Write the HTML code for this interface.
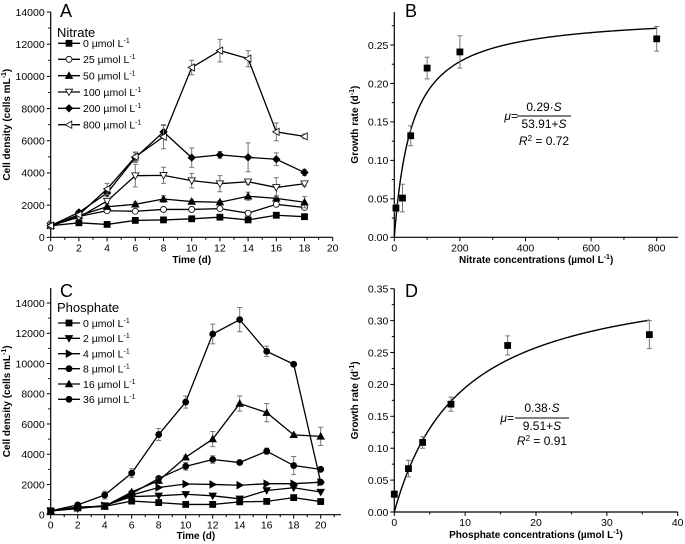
<!DOCTYPE html>
<html><head><meta charset="utf-8"><style>
html,body{margin:0;padding:0;background:#fff}
svg{display:block;font-family:"Liberation Sans",Arial,sans-serif}
</style></head><body>
<svg id="c" width="685" height="544" viewBox="0 0 685 544" xmlns="http://www.w3.org/2000/svg"></svg>
<script>
// Panel A data (time in days)
const daysA=[0,2,4,6,8,10,12,14,16,18];
const nitrateLabels=["0 µmol L","25 µmol L","50 µmol L","100 µmol L","200 µmol L","800 µmol L"];
const nA0=[720,900,800,1050,1080,1150,1250,1080,1370,1280];
const nA25=[720,1300,1650,1620,1730,1730,1780,1500,2050,1850];
const nA50=[720,1350,1900,2050,2380,2220,2180,2550,2420,2180];
const nA100=[720,1250,2250,3830,3850,3520,3330,3450,3100,3330];
const nA200=[720,1550,2750,4950,6550,4950,5120,4970,4850,4030];
const nA800=[720,1400,3000,5000,6250,10550,11600,11100,6550,6270];
const eA=[0,0,0,0,0,0,0,0,0,0];
const eA100=[150,100,150,700,500,450,500,150,600,150];
const eA200=[150,100,200,300,400,600,200,900,400,200];
const eA800=[150,100,350,300,750,450,700,500,550,150];
const eA50=[100,80,100,150,200,100,100,250,150,350];
// Panel C data
const daysC=[0,2,4,6,8,10,12,14,16,18,20];
const phosLabels=["0 µmol L","2 µmol L","4 µmol L","8 µmol L","16 µmol L","36 µmol L"];
const pC0=[250,450,550,900,800,680,680,850,880,1130,870];
const pC2=[250,400,600,1200,1250,1350,1250,1050,1600,1780,1500];
const pC4=[250,450,600,1300,1800,2030,2000,1950,2050,2050,2150];
const pC8=[250,500,550,1400,2400,3200,3650,3450,4200,3250,3000];
const pC16=[250,500,550,1500,2250,3800,5000,7350,6750,5280,5180];
const pC36=[250,650,1300,2750,5300,7450,11950,12900,10800,9950,2150];
const eC36=[100,100,250,300,400,400,650,800,350,100,100];
const eC16=[100,100,100,100,150,100,500,500,600,100,600];
const eC8=[100,100,100,100,100,250,250,100,200,600,100];
// Panel B
const nitrateConc=[5,25,50,100,200,800];
const nitrateRate=[0.038,0.051,0.132,0.220,0.241,0.258];
const nitrateErr=[0.005,0.018,0.013,0.014,0.021,0.016];
const nitrateFit=[0.29,53.91];
// Panel D
const phosConc=[0,2,4,8,16,36];
const phosRate=[0.028,0.068,0.109,0.169,0.261,0.278];
const phosErr=[0.005,0.013,0.009,0.011,0.015,0.022];
const phosFit=[0.38,9.51];

const NS="http://www.w3.org/2000/svg";
const svg=document.getElementById('c');
function mk(tag,attrs,parent,text){const e=document.createElementNS(NS,tag);for(const k in attrs)e.setAttribute(k,attrs[k]);if(text!==undefined)e.textContent=text;(parent||svg).appendChild(e);return e;}
function lin(d0,d1,r0,r1){return v=>r0+(v-d0)*(r1-r0)/(d1-d0);}
const SUP='<tspan dy="-4" font-size="7">-1</tspan><tspan dy="4">)</tspan>';

function axes(g,sx,sy,x0,x1,y0,y1,xt,yt,xmin,ymin,xfmt,yfmt,xTitle,yTitle,yTitleX,xTitleY){
  const ax=mk('path',{d:`M${sx(x0)} ${sy(y1)} V${sy(y0)} H${sx(x1)}`,stroke:'#000','stroke-width':1.2,fill:'none'},g);
  
  xt.forEach(v=>{mk('line',{x1:sx(v),x2:sx(v),y1:sy(y0),y2:sy(y0)+4,stroke:'#000'},g);
    const t=mk('text',{x:sx(v),y:sy(y0)+14,'font-size':10.5,'text-anchor':'middle'},g,xfmt(v));
    });
  xmin.forEach(v=>mk('line',{x1:sx(v),x2:sx(v),y1:sy(y0),y2:sy(y0)+2.5,stroke:'#000'},g));
  yt.forEach(v=>{mk('line',{x1:sx(x0)-4,x2:sx(x0),y1:sy(v),y2:sy(v),stroke:'#000'},g);
    const t=mk('text',{x:sx(x0)-6,y:sy(v)+3.8,'font-size':10.5,'text-anchor':'end'},g,yfmt(v));
    });
  ymin.forEach(v=>mk('line',{x1:sx(x0)-2.5,x2:sx(x0),y1:sy(v),y2:sy(v),stroke:'#000'},g));
  const xtEl=mk('text',{x:(sx(x0)+sx(x1))/2,y:xTitleY,'font-size':10,'font-weight':'bold','text-anchor':'middle'},g);
  xtEl.innerHTML=xTitle;
  const cy=(sy(y0)+sy(y1))/2;
  const ytEl=mk('text',{x:yTitleX,y:cy,'font-size':10,'font-weight':'bold','text-anchor':'middle',transform:`rotate(-90 ${yTitleX} ${cy})`},g);
  ytEl.innerHTML=yTitle;
}

function marker(g,type,x,y){
  const s=3;let e;
  const fill=/open/.test(type)?'#fff':'#000';
  if(/square/.test(type))e=mk('rect',{x:x-s,y:y-s,width:2*s,height:2*s,fill:fill,stroke:'#000','stroke-width':0.8},g);
  else if(/circle/.test(type))e=mk('circle',{cx:x,cy:y,r:s,fill:fill,stroke:'#000','stroke-width':0.8},g);
  else if(/diamond/.test(type))e=mk('polygon',{points:`${x},${y-3.6} ${x+3.6},${y} ${x},${y+3.6} ${x-3.6},${y}`,fill:fill,stroke:'#000','stroke-width':0.8},g);
  else if(/up/.test(type))e=mk('polygon',{points:`${x},${y-3.6} ${x+3.6},${y+2.8} ${x-3.6},${y+2.8}`,fill:fill,stroke:'#000','stroke-width':0.8},g);
  else if(/down/.test(type))e=mk('polygon',{points:`${x},${y+3.6} ${x+3.6},${y-2.8} ${x-3.6},${y-2.8}`,fill:fill,stroke:'#000','stroke-width':0.8},g);
  else if(/left/.test(type))e=mk('polygon',{points:`${x-3.6},${y} ${x+2.8},${y-3.6} ${x+2.8},${y+3.6}`,fill:fill,stroke:'#000','stroke-width':0.8},g);
  else if(/right/.test(type))e=mk('polygon',{points:`${x+3.6},${y} ${x-2.8},${y-3.6} ${x-2.8},${y+3.6}`,fill:fill,stroke:'#000','stroke-width':0.8},g);
  return e;
}

function series(g,sx,sy,xs,ys,es,type,name){
  const sg=mk('g',{},g);
  if(es)xs.forEach((x,i)=>{if(es[i]>0){const X=sx(x);
    mk('path',{d:`M${X} ${sy(ys[i]-es[i])} V${sy(ys[i]+es[i])} M${X-2.5} ${sy(ys[i]+es[i])} H${X+2.5} M${X-2.5} ${sy(ys[i]-es[i])} H${X+2.5}`,stroke:'#777','stroke-width':1,fill:'none'},sg);}});
  mk('polyline',{points:xs.map((x,i)=>sx(x)+','+sy(ys[i])).join(' '),fill:'none',stroke:'#000','stroke-width':1.3},sg);
  xs.forEach((x,i)=>marker(sg,type,sx(x),sy(ys[i])));
}

function legend(g,title,titleY,ys,labels,types){
  const t=mk('text',{x:57,y:titleY,'font-size':13},g,title);
  
  labels.forEach((l,i)=>{const y=ys[i];const lg=mk('g',{},g);
    
    mk('line',{x1:58,x2:80,y1:y,y2:y,stroke:'#000','stroke-width':1.3},lg);
    marker(lg,types[i],69,y);
    const tx=mk('text',{x:83,y:y+3.8,'font-size':10.5},lg);
    tx.innerHTML=l+'<tspan dy="-4" font-size="7">-1</tspan>';});
}

function fit(g,sx,sy,p,xmax,name){
  let d='';for(let i=0;i<=300;i++){const x=xmax*i/300;const y=p[0]*x/(p[1]+x);d+=(i?'L':'M')+sx(x).toFixed(2)+' '+sy(y).toFixed(2);}
  const e=mk('path',{d:d,fill:'none',stroke:'#000','stroke-width':1.4},g);
  
}
function pts(g,sx,sy,xs,ys,es,name){
  const sg=mk('g',{},g);
  xs.forEach((x,i)=>{const X=sx(x);
    mk('path',{d:`M${X} ${sy(ys[i]-es[i])} V${sy(ys[i]+es[i])} M${X-2.5} ${sy(ys[i]+es[i])} H${X+2.5} M${X-2.5} ${sy(ys[i]-es[i])} H${X+2.5}`,stroke:'#777',fill:'none'},sg);
    marker(sg,'square',X,sy(ys[i]));});
}
function equation(g,cx,muX,nY,lineY,dY,rY,num,den,r2){
  const eg=mk('g',{'font-size':12},g);
  const m=mk('text',{x:muX,y:lineY+4,'text-anchor':'end'},eg);m.innerHTML='<tspan font-style="italic">μ</tspan>=';
  const n=mk('text',{x:cx,y:nY,'text-anchor':'middle'},eg);n.innerHTML=num+'·<tspan font-style="italic">S</tspan>';
  mk('line',{x1:cx-27,x2:cx+27,y1:lineY,y2:lineY,stroke:'#000'},eg);
  const dd=mk('text',{x:cx,y:dY,'text-anchor':'middle'},eg);dd.innerHTML=den+'+<tspan font-style="italic">S</tspan>';
  const r=mk('text',{x:cx,y:rY,'text-anchor':'middle'},eg);r.innerHTML='<tspan font-style="italic">R</tspan><tspan dy="-4" font-size="8">2</tspan><tspan dy="4"> = '+r2+'</tspan>';
}
function letter(g,x,y,t){const e=mk('text',{x:x,y:y,'font-size':18},g,t);}
const range=(a,b,s)=>{const r=[];for(let v=a;v<=b+1e-9;v+=s)r.push(+v.toFixed(4));return r;};

// Panel A
{const g=mk('g',{});
 const sx=lin(0,20,50.7,332.7),sy=lin(0,14000,237.3,12);
 axes(g,sx,sy,0,20,0,14000,range(0,20,2),range(0,14000,2000),range(1,19,2),range(1000,13000,2000),v=>v,v=>v,'Time (d)','Cell density (cells mL'+SUP,10,263);
 letter(g,60,17,'A');
 series(g,sx,sy,daysA,nA0,eA,'square','series-nitrate-0');
 series(g,sx,sy,daysA,nA25,eA,'open-circle','series-nitrate-25');
 series(g,sx,sy,daysA,nA50,eA50,'up','series-nitrate-50');
 series(g,sx,sy,daysA,nA100,eA100,'open-down','series-nitrate-100');
 series(g,sx,sy,daysA,nA200,eA200,'diamond','series-nitrate-200');
 series(g,sx,sy,daysA,nA800,eA800,'open-left','series-nitrate-800');
 legend(g,'Nitrate',37,[43.3,59.3,75.7,92,108.3,124.7],nitrateLabels,['square','open-circle','up','open-down','diamond','open-left']);}
// Panel B
{const g=mk('g',{});
 const sx=lin(0,800,394.3,656.7),sy=lin(0,0.25,237.3,45);
 axes(g,sx,sy,0,865,0,0.293,range(0,800,200),range(0,0.25,0.05),range(100,700,200),range(0.025,0.275,0.05),v=>v,v=>v.toFixed(2),'Nitrate concentrations (µmol L'+SUP,'Growth rate (d'+SUP,358,263);
 letter(g,405,17,'B');
 fit(g,sx,sy,nitrateFit,800,'fit-curve-nitrate');
 pts(g,sx,sy,nitrateConc,nitrateRate,nitrateErr,'points-nitrate');
 equation(g,544,518,111,116,128,145,'0.29','53.91','0.72');}
// Panel C
{const g=mk('g',{});
 const sx=lin(0,20,50.7,320.7),sy=lin(0,14000,514.7,303);
 axes(g,sx,sy,0,21.5,0,15000,range(0,20,2),range(0,14000,2000),range(1,21,2),range(1000,13000,2000),v=>v,v=>v,'Time (d)','Cell density (cells mL'+SUP,10,539);
 letter(g,60,297,'C');
 series(g,sx,sy,daysC,pC0,null,'square','series-phosphate-0');
 series(g,sx,sy,daysC,pC2,null,'down','series-phosphate-2');
 series(g,sx,sy,daysC,pC4,null,'right','series-phosphate-4');
 series(g,sx,sy,daysC,pC8,eC8,'circle','series-phosphate-8');
 series(g,sx,sy,daysC,pC16,eC16,'up','series-phosphate-16');
 series(g,sx,sy,daysC,pC36,eC36,'circle','series-phosphate-36');
 legend(g,'Phosphate',312,[323,338.3,353.7,368.7,384,399.3],phosLabels,['square','down','right','circle','up','circle']);}
// Panel D
{const g=mk('g',{});
 const sx=lin(0,40,394.3,677.7),sy=lin(0,0.35,512,288.7);
 axes(g,sx,sy,0,40,0,0.35,range(0,40,10),range(0,0.35,0.05),range(5,35,10),range(0.025,0.325,0.05),v=>v,v=>v.toFixed(2),'Phosphate concentrations (µmol L'+SUP,'Growth rate (d'+SUP,358,538);
 letter(g,405,297,'D');
 fit(g,sx,sy,phosFit,36,'fit-curve-phosphate');
 pts(g,sx,sy,phosConc,phosRate,phosErr,'points-phosphate');
 equation(g,542,514,412,418,430,445,'0.38','9.51','0.91');}
</script>
</body></html>
